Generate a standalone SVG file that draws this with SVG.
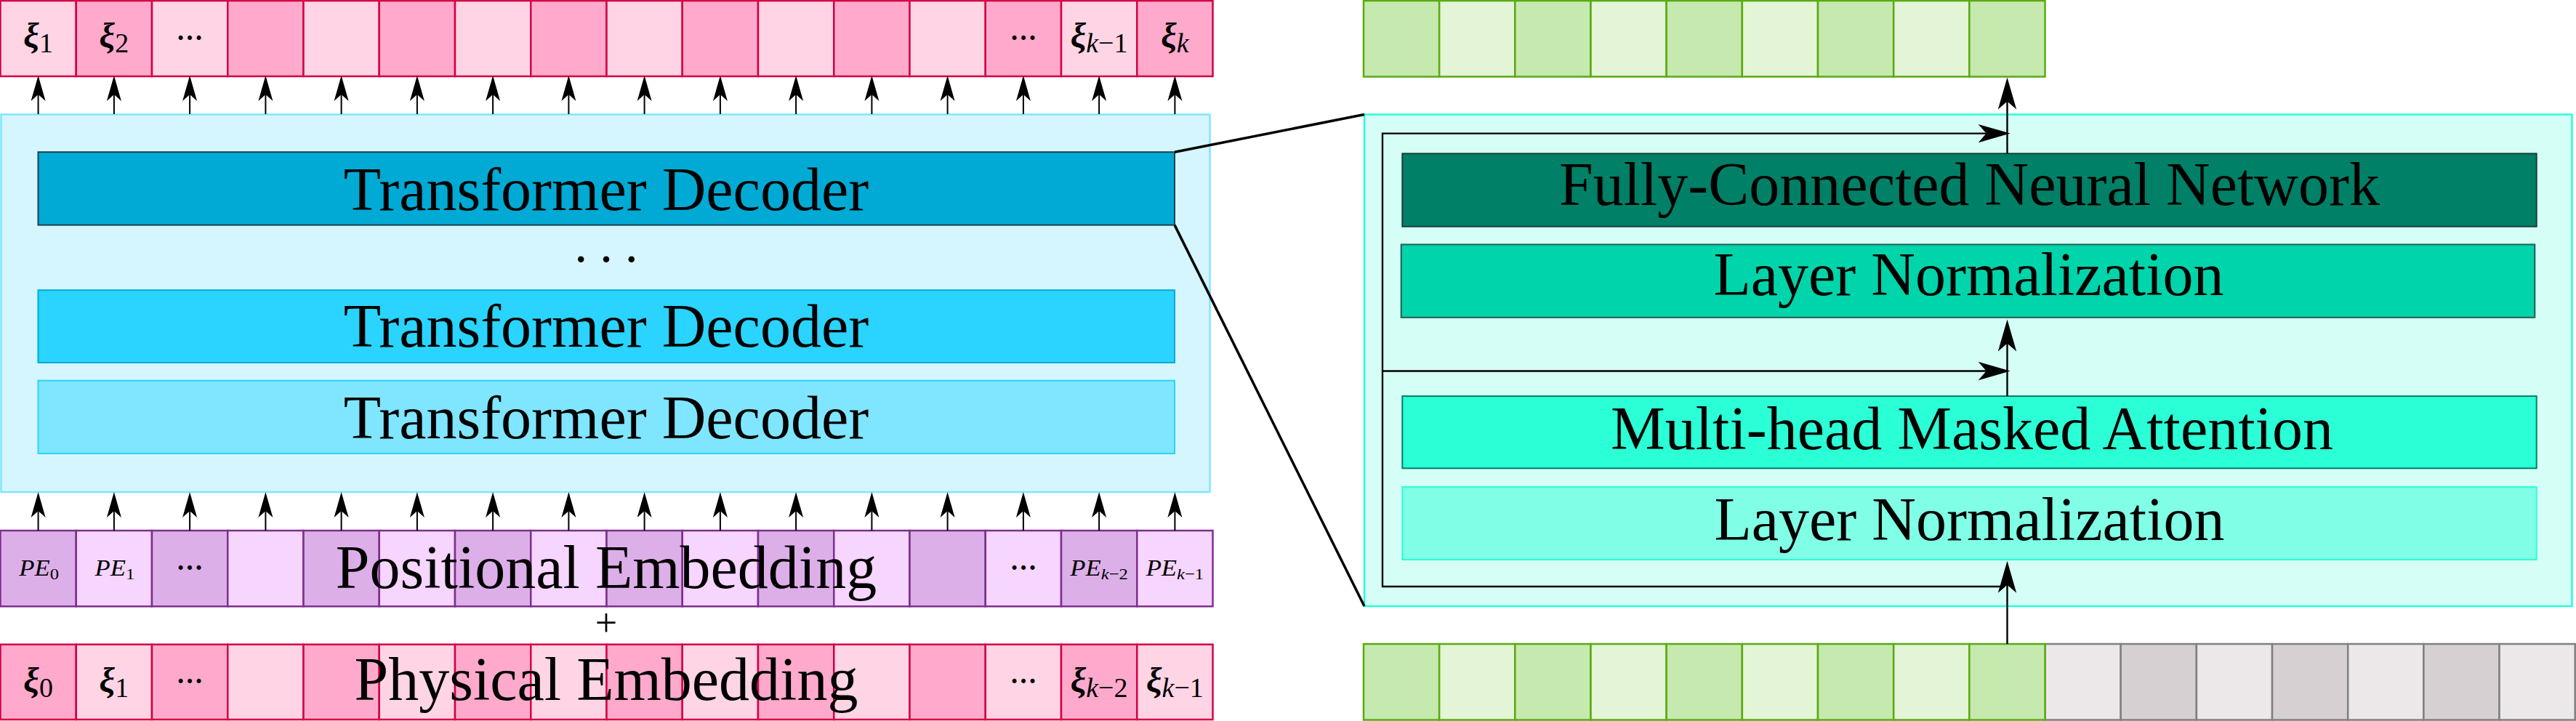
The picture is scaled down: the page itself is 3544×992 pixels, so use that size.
<svg xmlns="http://www.w3.org/2000/svg" width="3544" height="992" viewBox="0 0 3544 992">
<defs>
<style>
text{font-family:"Liberation Serif","Times New Roman",serif;fill:#000}
.big{font-size:84px;text-anchor:middle}
.lb{text-anchor:middle}
.xi{font-weight:bold;font-style:italic;font-size:48px}
.sub{font-size:38px}
.it{font-style:italic}
.pe{font-size:31px;font-style:italic}
.pes{font-size:22px}
.dots{font-size:37px;font-weight:bold;text-anchor:middle}
.pk1{fill:#FFD5E5;stroke:#D40044;stroke-width:2.5}
.pk2{fill:#FFAACC;stroke:#D40044;stroke-width:2.5}
.pu1{fill:#F6D5FF;stroke:#7E2F8E;stroke-width:2.5}
.pu2{fill:#DDAFE9;stroke:#7E2F8E;stroke-width:2.5}
.gr1{fill:#E3F4D7;stroke:#5AAA12;stroke-width:2.5}
.gr2{fill:#C6E9AF;stroke:#5AAA12;stroke-width:2.5}
.gy1{fill:#ECE8EA;stroke:#808080;stroke-width:2.5}
.gy2{fill:#D6D0D3;stroke:#808080;stroke-width:2.5}
.as{stroke:#000;stroke-width:2;fill:none;marker-end:url(#ahS)}
.al{stroke:#000;stroke-width:2.4;fill:none;marker-end:url(#ahL)}
.zoom{stroke:#000;stroke-width:3.5;fill:none}
</style>
<marker id="ahS" markerUnits="userSpaceOnUse" viewBox="-36 -11 37 22" refX="-6" refY="0" markerWidth="37" markerHeight="22" orient="auto"><path d="M0,0 L-35,-10 L-26,0 L-35,10 Z" fill="#000"/></marker>
<marker id="ahL" markerUnits="userSpaceOnUse" viewBox="-45 -14 46 28" refX="-6" refY="0" markerWidth="46" markerHeight="28" orient="auto"><path d="M0,0 L-44,-12.7 L-33,0 L-44,12.7 Z" fill="#000"/></marker>
</defs>

<g id="output-tokens">
<rect class="pk1" x="0.5" y="1" width="104.25" height="104"/>
<rect class="pk2" x="104.75" y="1" width="104.25" height="104"/>
<rect class="pk1" x="209" y="1" width="104.25" height="104"/>
<rect class="pk2" x="313.25" y="1" width="104.25" height="104"/>
<rect class="pk1" x="417.5" y="1" width="104.25" height="104"/>
<rect class="pk2" x="521.75" y="1" width="104.25" height="104"/>
<rect class="pk1" x="626" y="1" width="104.25" height="104"/>
<rect class="pk2" x="730.25" y="1" width="104.25" height="104"/>
<rect class="pk1" x="834.5" y="1" width="104.25" height="104"/>
<rect class="pk2" x="938.75" y="1" width="104.25" height="104"/>
<rect class="pk1" x="1043" y="1" width="104.25" height="104"/>
<rect class="pk2" x="1147.25" y="1" width="104.25" height="104"/>
<rect class="pk1" x="1251.5" y="1" width="104.25" height="104"/>
<rect class="pk2" x="1355.75" y="1" width="104.25" height="104"/>
<rect class="pk1" x="1460" y="1" width="104.25" height="104"/>
<rect class="pk2" x="1564.25" y="1" width="104.25" height="104"/>
<text class="lb" x="52.6" y="65"><tspan class="xi">ξ</tspan><tspan class="sub" dy="7">1</tspan></text>
<text class="lb" x="156.9" y="65"><tspan class="xi">ξ</tspan><tspan class="sub" dy="7">2</tspan></text>
<text class="dots" x="261.1" y="55">…</text>
<text class="dots" x="1407.9" y="55">…</text>
<text class="lb" x="1512.1" y="65"><tspan class="xi">ξ</tspan><tspan class="sub it" dy="7">k</tspan><tspan class="sub">−1</tspan></text>
<text class="lb" x="1616.4" y="65"><tspan class="xi">ξ</tspan><tspan class="sub it" dy="7">k</tspan></text>
</g>

<g id="decoder-stack">
<rect x="1.5" y="157.5" width="1663" height="519.5" fill="#D5F6FF" stroke="#80E5FF" stroke-width="2.5"/>
<g id="decoder-top">
<rect x="52.5" y="209.2" width="1563.5" height="100.4" fill="#00AAD4" stroke="#164450" stroke-width="2"/>
<text class="big" x="834" y="288.6">Transformer Decoder</text>
</g>
<text class="lb" x="839.3" y="381" style="font-size:72px;letter-spacing:10.7px">···</text>
<g id="decoder-middle">
<rect x="52.5" y="399.2" width="1563.5" height="99.7" fill="#2AD4FF" stroke="#00AAD4" stroke-width="2"/>
<text class="big" x="834" y="477.2">Transformer Decoder</text>
</g>
<g id="decoder-bottom">
<rect x="52.5" y="523.6" width="1563.5" height="100.4" fill="#80E5FF" stroke="#2AD4FF" stroke-width="2"/>
<text class="big" x="834" y="603">Transformer Decoder</text>
</g>
</g>

<g id="positional-embedding">
<rect class="pu2" x="0.5" y="730" width="104.25" height="104.3"/>
<rect class="pu1" x="104.75" y="730" width="104.25" height="104.3"/>
<rect class="pu2" x="209" y="730" width="104.25" height="104.3"/>
<rect class="pu1" x="313.25" y="730" width="104.25" height="104.3"/>
<rect class="pu2" x="417.5" y="730" width="104.25" height="104.3"/>
<rect class="pu1" x="521.75" y="730" width="104.25" height="104.3"/>
<rect class="pu2" x="626" y="730" width="104.25" height="104.3"/>
<rect class="pu1" x="730.25" y="730" width="104.25" height="104.3"/>
<rect class="pu2" x="834.5" y="730" width="104.25" height="104.3"/>
<rect class="pu1" x="938.75" y="730" width="104.25" height="104.3"/>
<rect class="pu2" x="1043" y="730" width="104.25" height="104.3"/>
<rect class="pu1" x="1147.25" y="730" width="104.25" height="104.3"/>
<rect class="pu2" x="1251.5" y="730" width="104.25" height="104.3"/>
<rect class="pu1" x="1355.75" y="730" width="104.25" height="104.3"/>
<rect class="pu2" x="1460" y="730" width="104.25" height="104.3"/>
<rect class="pu1" x="1564.25" y="730" width="104.25" height="104.3"/>
<text class="lb" transform="translate(53.6 792) scale(1.12 1)"><tspan class="pe">PE</tspan><tspan class="pes" dy="5">0</tspan></text>
<text class="lb" transform="translate(157.9 792) scale(1.12 1)"><tspan class="pe">PE</tspan><tspan class="pes" dy="5">1</tspan></text>
<text class="dots" x="261.1" y="784">…</text>
<text class="dots" x="1407.9" y="784">…</text>
<text class="lb" transform="translate(1512.1 792) scale(1.12 1)"><tspan class="pe">PE</tspan><tspan class="pes it" dy="5">k</tspan><tspan class="pes">−2</tspan></text>
<text class="lb" transform="translate(1616.4 792) scale(1.12 1)"><tspan class="pe">PE</tspan><tspan class="pes it" dy="5">k</tspan><tspan class="pes">−1</tspan></text>
<text class="big" x="834" y="809">Positional Embedding</text>
</g>

<text class="lb" x="834" y="875" style="font-size:54px">+</text>

<g id="physical-embedding">
<rect class="pk2" x="0.5" y="886.7" width="104.25" height="103.3"/>
<rect class="pk1" x="104.75" y="886.7" width="104.25" height="103.3"/>
<rect class="pk2" x="209" y="886.7" width="104.25" height="103.3"/>
<rect class="pk1" x="313.25" y="886.7" width="104.25" height="103.3"/>
<rect class="pk2" x="417.5" y="886.7" width="104.25" height="103.3"/>
<rect class="pk1" x="521.75" y="886.7" width="104.25" height="103.3"/>
<rect class="pk2" x="626" y="886.7" width="104.25" height="103.3"/>
<rect class="pk1" x="730.25" y="886.7" width="104.25" height="103.3"/>
<rect class="pk2" x="834.5" y="886.7" width="104.25" height="103.3"/>
<rect class="pk1" x="938.75" y="886.7" width="104.25" height="103.3"/>
<rect class="pk2" x="1043" y="886.7" width="104.25" height="103.3"/>
<rect class="pk1" x="1147.25" y="886.7" width="104.25" height="103.3"/>
<rect class="pk2" x="1251.5" y="886.7" width="104.25" height="103.3"/>
<rect class="pk1" x="1355.75" y="886.7" width="104.25" height="103.3"/>
<rect class="pk2" x="1460" y="886.7" width="104.25" height="103.3"/>
<rect class="pk1" x="1564.25" y="886.7" width="104.25" height="103.3"/>
<text class="lb" x="52.6" y="952"><tspan class="xi">ξ</tspan><tspan class="sub" dy="7">0</tspan></text>
<text class="lb" x="156.9" y="952"><tspan class="xi">ξ</tspan><tspan class="sub" dy="7">1</tspan></text>
<text class="dots" x="261.1" y="940">…</text>
<text class="dots" x="1407.9" y="940">…</text>
<text class="lb" x="1512.1" y="952"><tspan class="xi">ξ</tspan><tspan class="sub it" dy="7">k</tspan><tspan class="sub">−2</tspan></text>
<text class="lb" x="1616.4" y="952"><tspan class="xi">ξ</tspan><tspan class="sub it" dy="7">k</tspan><tspan class="sub">−1</tspan></text>
<text class="big" x="834" y="962.7">Physical Embedding</text>
</g>

<g id="detail-output">
<rect class="gr2" x="1876" y="1" width="104.17" height="104.5"/>
<rect class="gr1" x="1980.17" y="1" width="104.17" height="104.5"/>
<rect class="gr2" x="2084.34" y="1" width="104.17" height="104.5"/>
<rect class="gr1" x="2188.51" y="1" width="104.17" height="104.5"/>
<rect class="gr2" x="2292.68" y="1" width="104.17" height="104.5"/>
<rect class="gr1" x="2396.85" y="1" width="104.17" height="104.5"/>
<rect class="gr2" x="2501.02" y="1" width="104.17" height="104.5"/>
<rect class="gr1" x="2605.19" y="1" width="104.17" height="104.5"/>
<rect class="gr2" x="2709.36" y="1" width="104.17" height="104.5"/>
</g>

<g id="decoder-detail">
<rect x="1877" y="157.5" width="1661.5" height="676.5" fill="#D5FFF6" stroke="#2AFFD5" stroke-width="2.5"/>
<g id="fc-network">
<rect x="1929.3" y="211.3" width="1560.4" height="100.4" fill="#008066" stroke="#1A3F38" stroke-width="2"/>
<text class="big" x="2709.5" y="282.3">Fully-Connected Neural Network</text>
</g>
<g id="layer-norm-top">
<rect x="1927.7" y="336.4" width="1559.6" height="100.4" fill="#00D4AA" stroke="#1F5F52" stroke-width="2"/>
<text class="big" x="2708.5" y="405.7">Layer Normalization</text>
</g>
<g id="masked-attention">
<rect x="1929.3" y="545" width="1560.4" height="99.3" fill="#2AFFD5" stroke="#008066" stroke-width="2"/>
<text class="big" x="2713" y="618.3">Multi-head Masked Attention</text>
</g>
<g id="layer-norm-bottom">
<rect x="1929.3" y="670" width="1560.4" height="100" fill="#80FFE6" stroke="#2AFFD5" stroke-width="2"/>
<text class="big" x="2709.5" y="742.7">Layer Normalization</text>
</g>
</g>

<g id="detail-input">
<rect class="gy1" x="2813.53" y="886" width="104.17" height="104.5"/>
<rect class="gy2" x="2917.7" y="886" width="104.17" height="104.5"/>
<rect class="gy1" x="3021.87" y="886" width="104.17" height="104.5"/>
<rect class="gy2" x="3126.04" y="886" width="104.17" height="104.5"/>
<rect class="gy1" x="3230.21" y="886" width="104.17" height="104.5"/>
<rect class="gy2" x="3334.38" y="886" width="104.17" height="104.5"/>
<rect class="gy1" x="3438.55" y="886" width="104.17" height="104.5"/>
<rect class="gr2" x="1876" y="886" width="104.17" height="104.5"/>
<rect class="gr1" x="1980.17" y="886" width="104.17" height="104.5"/>
<rect class="gr2" x="2084.34" y="886" width="104.17" height="104.5"/>
<rect class="gr1" x="2188.51" y="886" width="104.17" height="104.5"/>
<rect class="gr2" x="2292.68" y="886" width="104.17" height="104.5"/>
<rect class="gr1" x="2396.85" y="886" width="104.17" height="104.5"/>
<rect class="gr2" x="2501.02" y="886" width="104.17" height="104.5"/>
<rect class="gr1" x="2605.19" y="886" width="104.17" height="104.5"/>
<rect class="gr2" x="2709.36" y="886" width="104.17" height="104.5"/>
</g>

<g id="connectors">
<path class="as" d="M52.6,157 V110"/>
<path class="as" d="M156.9,157 V110"/>
<path class="as" d="M261.1,157 V110"/>
<path class="as" d="M365.4,157 V110"/>
<path class="as" d="M469.6,157 V110"/>
<path class="as" d="M573.9,157 V110"/>
<path class="as" d="M678.1,157 V110"/>
<path class="as" d="M782.4,157 V110"/>
<path class="as" d="M886.6,157 V110"/>
<path class="as" d="M990.9,157 V110"/>
<path class="as" d="M1095.1,157 V110"/>
<path class="as" d="M1199.4,157 V110"/>
<path class="as" d="M1303.6,157 V110"/>
<path class="as" d="M1407.9,157 V110"/>
<path class="as" d="M1512.1,157 V110"/>
<path class="as" d="M1616.4,157 V110"/>
<path class="as" d="M52.6,730 V683"/>
<path class="as" d="M156.9,730 V683"/>
<path class="as" d="M261.1,730 V683"/>
<path class="as" d="M365.4,730 V683"/>
<path class="as" d="M469.6,730 V683"/>
<path class="as" d="M573.9,730 V683"/>
<path class="as" d="M678.1,730 V683"/>
<path class="as" d="M782.4,730 V683"/>
<path class="as" d="M886.6,730 V683"/>
<path class="as" d="M990.9,730 V683"/>
<path class="as" d="M1095.1,730 V683"/>
<path class="as" d="M1199.4,730 V683"/>
<path class="as" d="M1303.6,730 V683"/>
<path class="as" d="M1407.9,730 V683"/>
<path class="as" d="M1512.1,730 V683"/>
<path class="as" d="M1616.4,730 V683"/>
<path class="zoom" d="M1616,209.2 L1877,157.5"/>
<path class="zoom" d="M1616,309.6 L1877,834"/>
<path class="al" d="M2761.5,886 V777.7"/>
<path class="al" d="M2761.5,545 V445.5"/>
<path class="al" d="M2761.5,211.3 V112.5"/>
<path class="al" d="M2758,807 H1902 V183.6 H2759.7"/>
<path class="al" d="M1902,510.5 H2759.7"/>
</g>
</svg>
